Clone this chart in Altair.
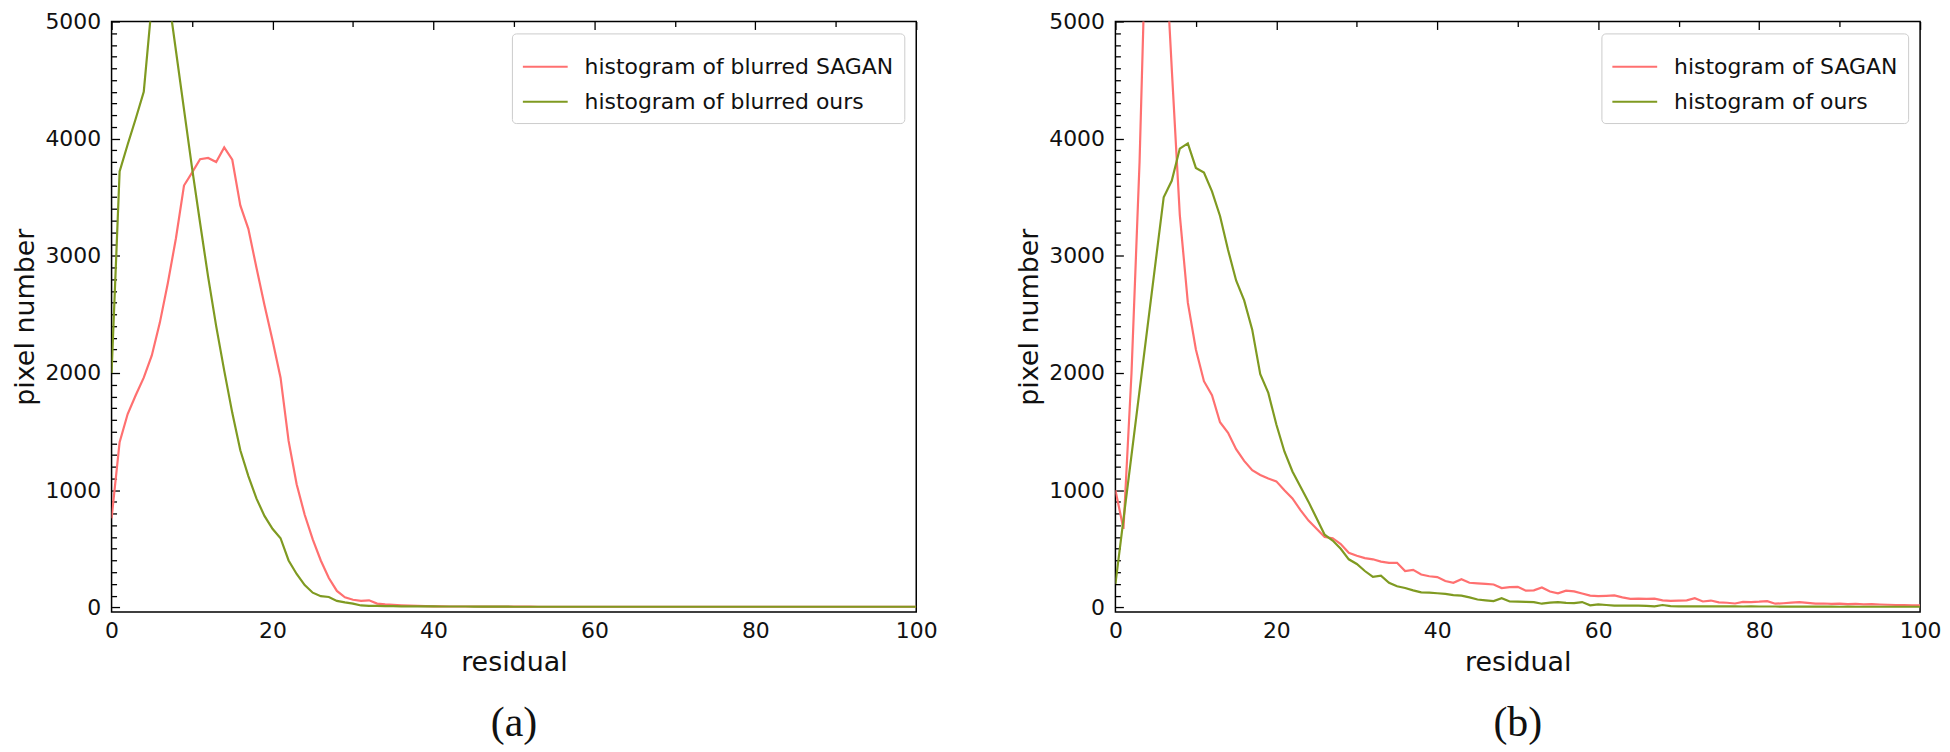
import altair as alt
import pandas as pd

# ---------------- data ----------------
RESIDUAL = list(range(0, 101))

LEFT_NAMES = ["histogram of blurred SAGAN", "histogram of blurred ours"]
RIGHT_NAMES = ["histogram of SAGAN", "histogram of ours"]

LEFT_RED = [
    760, 1410, 1650, 1810, 1960, 2150, 2430, 2770, 3150, 3600,
    3710, 3825, 3835, 3800, 3925, 3820, 3430, 3230, 2900, 2580,
    2280, 1960, 1420, 1050, 790, 580, 400, 250, 140, 85,
    65, 55, 60, 32, 26, 22, 18, 15, 12, 10,
    8, 8, 7, 7, 7, 7, 6, 6, 6, 6,
    6, 6, 6, 5, 5, 5, 5, 5, 5, 5,
    5, 5, 5, 5, 5, 5, 5, 5, 5, 5,
    5, 5, 5, 5, 5, 5, 5, 5, 5, 5,
    5, 5, 5, 5, 5, 5, 5, 5, 5, 5,
    5, 5, 5, 5, 5, 5, 5, 5, 5, 5,
    5,
]
LEFT_GREEN = [
    2000, 3720, 3950, 4170, 4400, 5150, 5500, 5250, 4750, 4250,
    3750, 3280, 2820, 2400, 2020, 1660, 1340, 1120, 930, 780,
    670, 590, 400, 285, 190, 125, 95, 88, 55, 42,
    32, 16, 13, 12, 11, 10, 9, 9, 8, 8,
    8, 7, 7, 7, 7, 6, 6, 6, 6, 6,
    5, 5, 5, 5, 5, 5, 5, 5, 5, 5,
    5, 5, 5, 5, 5, 5, 5, 5, 5, 5,
    5, 5, 5, 5, 5, 5, 5, 5, 5, 5,
    5, 5, 5, 5, 5, 5, 5, 5, 5, 5,
    5, 5, 5, 5, 5, 5, 5, 5, 5, 5,
    5,
]
RIGHT_RED = [
    1000, 670, 2000, 3800, 6300, 7000, 5900, 4600, 3350, 2600,
    2200, 1930, 1810, 1580, 1490, 1350, 1250, 1170, 1130, 1100,
    1075, 1000, 930, 830, 740, 670, 600, 590, 540, 465,
    440, 420, 410, 390, 380, 380, 310, 320, 280, 265,
    258, 225, 209, 240, 210, 205, 200, 195, 165, 172,
    175, 142, 145, 170, 135, 120, 142, 136, 118, 100,
    95, 98, 102, 85, 72, 75, 72, 74, 60, 55,
    58, 60, 78, 50, 58, 42, 39, 33, 47, 45,
    48, 53, 31, 35, 40, 45, 38, 31, 33, 30,
    31, 28, 30, 25, 27, 24, 22, 20, 19, 18,
    17,
]
RIGHT_GREEN = [
    200, 750, 1300, 1850, 2400, 2950, 3500, 3640, 3915, 3960,
    3750, 3710, 3550, 3340, 3050, 2790, 2620, 2370, 1990, 1830,
    1560, 1330, 1160, 1030, 900, 760, 620, 570, 500, 410,
    370, 310, 260, 270, 210, 180, 165, 145, 128, 125,
    120, 115, 105, 100, 85, 67, 60, 53, 78, 50,
    48, 47, 45, 31, 40, 45, 38, 36, 45, 17,
    25, 20, 14, 15, 14, 14, 13, 8, 20, 10,
    9, 9, 8, 9, 8, 8, 8, 8, 7, 8,
    7, 7, 7, 6, 7, 6, 6, 6, 6, 6,
    5, 6, 5, 5, 5, 5, 5, 5, 5, 5,
    5,
]

X_TICKS = list(range(0, 101, 10))
Y_TICKS = list(range(0, 5001, 100))

# ---------------- style ----------------
RED = "#ff7070"
GREEN = "#7f9a21"
FONT = "DejaVu Sans"
W, H = 808, 593


def x_axis():
    return alt.Axis(
        values=X_TICKS, title="residual", format="d",
        labelExpr="datum.value % 20 === 0 ? datum.label : ''",
        ticks=False, domain=False, grid=True,
        gridColor="black", gridOpacity=1, gridWidth=1.3,
        gridDash={"condition": {"test": "datum.value % 20 === 0", "value": [8, 3000]},
                  "value": [5, 3000]},
        labelFont=FONT, labelFontSize=22, labelColor="#111111", labelPadding=9,
        labelOverlap=False, labelFlush=False,
        titleFont=FONT, titleFontSize=27, titleFontWeight="normal",
        titleColor="#111111", titlePadding=8,
    )


def y_axis():
    return alt.Axis(
        values=Y_TICKS, title="pixel number", format="d",
        labelExpr="datum.value % 1000 === 0 ? datum.label : ''",
        ticks=False, domain=False, grid=True,
        gridColor="black", gridOpacity=1, gridWidth=1.3,
        gridDash={"condition": {"test": "datum.value % 1000 === 0", "value": [8, 3000]},
                  "value": [5, 3000]},
        labelFont=FONT, labelFontSize=22, labelColor="#111111", labelPadding=11,
        labelOverlap=False, labelFlush=False,
        titleFont=FONT, titleFontSize=27, titleFontWeight="normal",
        titleColor="#111111", titlePadding=5,
    )


def panel(red, green, names, caption):
    df = pd.DataFrame({
        "residual": RESIDUAL + RESIDUAL,
        "count": red + green,
        "series": [names[0]] * len(red) + [names[1]] * len(green),
    })
    return alt.Chart(df).mark_line(strokeWidth=2.2, clip=True).encode(
        x=alt.X("residual:Q", scale=alt.Scale(domain=[0, 100], nice=False, zero=False), axis=x_axis()),
        y=alt.Y("count:Q", scale=alt.Scale(domain=[-40, 5000], nice=False, zero=False), axis=y_axis()),
        color=alt.Color(
            "series:N",
            scale=alt.Scale(domain=names, range=[RED, GREEN]),
            legend=alt.Legend(
                title=None, orient="top-right", offset=12,
                fillColor="white", strokeColor="#cccccc", cornerRadius=4, padding=10,
                symbolType="stroke", symbolStrokeWidth=2, symbolSize=2025,
                labelFont=FONT, labelFontSize=22, labelColor="#111111",
                labelOffset=16, labelLimit=0, rowPadding=-13,
            ),
        ),
    ).properties(
        width=W, height=H,
        title=alt.TitleParams(
            text=caption, orient="bottom", anchor="middle",
            font="Liberation Serif", fontSize=42, fontWeight="normal",
            color="#111111", offset=27,
        ),
    )


left = panel(LEFT_RED, LEFT_GREEN, LEFT_NAMES, "(a)")
right = panel(RIGHT_RED, RIGHT_GREEN, RIGHT_NAMES, "(b)")

chart = (
    alt.hconcat(left, right, spacing=200, bounds="flush")
    .resolve_scale(color="independent")
    .resolve_legend(color="independent")
    .configure_view(stroke="black", strokeWidth=1.5)
    .properties(padding={"left": 3, "top": 0, "right": 0, "bottom": 0}, background="white")
)

chart.save("out.html", embed_options={"renderer": "svg", "actions": False})
